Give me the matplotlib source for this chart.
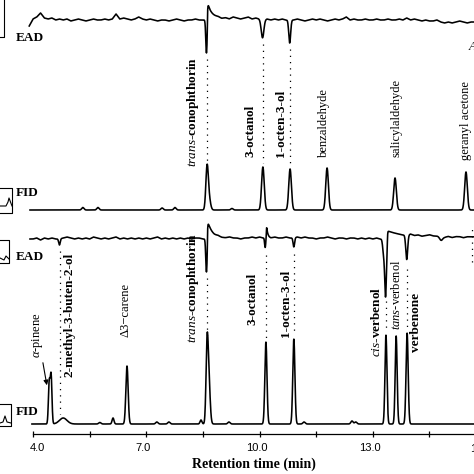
import numpy as np
import matplotlib
matplotlib.use('Agg')
import matplotlib.pyplot as plt
from matplotlib.transforms import ScaledTranslation

plt.rcParams['font.family'] = ['Liberation Serif', 'DejaVu Serif']
plt.rcParams['mathtext.fontset'] = 'custom'
plt.rcParams['mathtext.rm'] = 'Liberation Serif'
plt.rcParams['mathtext.it'] = 'Liberation Serif:italic'
plt.rcParams['mathtext.bf'] = 'Liberation Serif:bold'

# ---- data (retention time in min, response in arbitrary units) ----
# run A, FID peaks
top_fid_t = [5.32, 5.72, 7.42, 7.76, 8.61, 8.66, 9.27, 10.09, 10.81, 11.79, 13.59, 15.47]
top_fid_h = [2.5, 2.5, 2, 2.5, 40, 12, 1.5, 43, 41, 42, 32, 38]
top_fid_w = [0.03, 0.03, 0.03, 0.03, 0.032, 0.04, 0.03, 0.035, 0.035, 0.035, 0.035, 0.035]

# run B, FID peaks
bot_fid_t = [4.43, 4.48, 4.80, 5.77, 6.12, 6.49, 7.28, 7.60, 8.45, 8.61, 8.655, 9.19,
             10.17, 10.91, 11.18, 12.45, 12.55, 13.35, 13.62, 13.91]
bot_fid_h = [41, 48, 6, 1.5, 6, 58, 2, 2, 4, 69, 45, 2, 82, 85, 2, 3, 2, 89, 88, 91]
bot_fid_w = [0.022, 0.022, 0.1, 0.03, 0.025, 0.03, 0.03, 0.03, 0.025, 0.028, 0.035, 0.03,
             0.028, 0.028, 0.03, 0.03, 0.03, 0.026, 0.026, 0.028]

# EAD baselines (sampled every 0.1 min from 3.9 min)
top_ead_noise = [-6, 1, 3, 7, 2, 1, 2, 0, 1, 0, 1, -1, 0, 1, 0, -1, 0, 1, 0, 0,
                 1, 0, 1, 6, 1, 2, 1, 0, 1, 3, 1, 0, 1, 0, -1, 0, 0, -1, 0, 1,
                 0, -1, 0, 0, 1, 0, 0, 0, 0, 1, 2, 1, 2, 1, 3, 2, 1, 2, 3, 1,
                 2, 1, 0, 1, 0, 1, 0, 1, 0, 0, 0, 1, 0, -1, 0, 1, 0, 1, 0, -1,
                 0, 1, 0, 1, 3, 0, 1, 0, 0, 1, 0, 0, 1, 0, 0, 1, 0, 0, 1, 0,
                 2, 0, 1, 0, -1, 0, -1, -1, 0, -2, -3, -2, -3, -2, -1, -2, -3, -2, -2]
bot_ead_noise = [0, 0, 1, -1, 1, 0, 1, 0, 0, 1, 2, 1, 0, 1, 0, 1, 0, 2, 1, 0,
                 1, 0, 1, 2, 0, 1, 0, 1, 0, 1, 0, 1, 0, 1, 2, 0, 1, 0, 1, 0,
                 1, 0, 1, 0, 1, 1, 0, 0, 1, 1, 2, 1, 1, 2, 1, 1, 0, 1, 1, 2,
                 1, 2, 1, 2, 1, 2, 1, 1, 2, 1, 1, 2, 1, 2, 1, 1, 0, 1, 1, 2,
                 1, 0, 1, 1, 0, 1, 1, 0, 1, 0, 1, 0, 1, 0, 0, 0, 0, 0, 0, 0,
                 0, 2, 1, 2, 1, 2, 3, 2, 2, 2, 1, 2, 1, 2, 2, 1, 2, 2, 2]

# EAD responses
top_ead_t = [8.595, 10.08, 10.80]
top_ead_a = [-33, -18, -23]
top_ead_w = [0.018, 0.035, 0.025]
top_reb_t = [8.63]
top_reb_a = [17]
top_reb_tau = [0.12]

bot_ead_t = [4.70, 8.595, 10.15, 10.91, 13.29, 13.34, 13.90, 14.81]
bot_ead_a = [-6, -33, -10, -9, -15, -56, -24, -4]
bot_ead_w = [0.02, 0.018, 0.015, 0.02, 0.025, 0.022, 0.025, 0.04]
bot_reb_t = [8.63, 10.19, 13.40]
bot_reb_a = [17, 10, 8]
bot_reb_tau = [0.12, 0.03, 0.6]

# compounds
top_names = [r'$\mathit{trans}$-conophthorin', '3-octanol', '1-octen-3-ol',
             'benzaldehyde', 'salicylaldehyde', 'geranyl acetone']
top_bold = [True, True, True, False, False, False]
top_active_t = [8.61, 10.09, 10.81]
top_active_ead = [-33, -18, -23]
top_active_fid = [40, 43, 41]

bot_names = [r'$\alpha$-pinene', '2-methyl-3-buten-2-ol', '\u03943\u2212carene',
             r'$\mathit{trans}$-conophthorin', '3-octanol', '1-octen-3-ol',
             r'$\mathit{cis}$-verbenol', r'$\mathit{tans}$-verbenol', 'verbenone']
bot_bold = [False, True, False, True, True, True, True, False, True]
bot_active_t = [4.72, 8.61, 10.17, 10.91, 13.35, 13.91]
bot_active_ead = [-6, -33, -10, -9, -56, -24]
bot_active_fid = [6, 69, 82, 85, 89, 91]

tick_vals = [4, 5.5, 7, 8.5, 10, 11.5, 13, 14.5]
tick_text = ['4.0', '', '7.0', '', '10.0', '', '13.0', '']

# ---- layout ----
TOP_EAD, TOP_FID, BOT_EAD, BOT_FID, AXIS_Y = 454, 264, 235, 50, 40
top_lab_x = [8.24, 9.77, 10.57, 11.71, 13.62, 15.47]
top_lab_y = [307, 317, 317, 317, 317, 314]
bot_lab_x = [4.13, 4.98, 6.44, 8.24, 9.80, 10.70, 13.09, 13.62, 14.15]
bot_lab_y = [116, 97, 137, 131, 149, 137, 117, 144, 122]


def px_t(px):
    return 4 + (px - 33) / 37.75


def fid(t, cs, hs, ws):
    y = np.zeros_like(t)
    for c, h, w in zip(cs, hs, ws):
        y += h * np.exp(-0.5 * ((t - c) / w) ** 2)
    return y


def ead(t, noise, cs, amps, ws, rc, ra, rtau):
    nt = 3.9 + 0.1 * np.arange(len(noise))
    y = np.interp(t, nt, noise)
    for c, a, w in zip(cs, amps, ws):
        y += a * np.exp(-0.5 * ((t - c) / w) ** 2)
    for c, a, tau in zip(rc, ra, rtau):
        y += np.where(t < c, a * np.exp(-((t - c) / 0.012) ** 2), a * np.exp(-(t - c) / tau))
    return y


fig = plt.figure(figsize=(4.74, 4.74), dpi=100)
ax = fig.add_axes([0, 0, 1, 1])
ax.set_xlim(px_t(0), px_t(474))
ax.set_ylim(0, 474)

LW = 1.15
t = np.arange(3.9, 15.75, 0.004)
ax.plot(t, TOP_EAD + ead(t, top_ead_noise, top_ead_t, top_ead_a, top_ead_w,
                         top_reb_t, top_reb_a, top_reb_tau), color='k', lw=LW)
tf = t[t >= 3.92]
ax.plot(tf, TOP_FID + fid(tf, top_fid_t, top_fid_h, top_fid_w), color='k', lw=LW)
ax.plot(tf, BOT_EAD + ead(tf, bot_ead_noise, bot_ead_t, bot_ead_a, bot_ead_w,
                          bot_reb_t, bot_reb_a, bot_reb_tau), color='k', lw=LW)
tb2 = t[t >= 3.97]
ax.plot(tb2, BOT_FID + fid(tb2, bot_fid_t, bot_fid_h, bot_fid_w), color='k', lw=LW)

# dotted links EAD -> FID
dot = dict(color='k', lw=0.9, ls=(0, (1, 4)))
for c, e, f in zip(top_active_t, top_active_ead, top_active_fid):
    ax.plot([c, c], [TOP_EAD + e - 6, TOP_FID + f + 4], **dot)
for c, e, f in zip(bot_active_t, bot_active_ead, bot_active_fid):
    ax.plot([c, c], [BOT_EAD + e - 6, BOT_FID + f + 4], **dot)
ax.plot([px_t(472), px_t(472)], [212, 246], **dot)

# compound labels
for name, b, x, y in zip(top_names, top_bold, top_lab_x, top_lab_y):
    ax.text(x, y, name, rotation=90, ha='center', va='bottom',
            fontsize=9.5 if b else 9, fontweight='bold' if b else 'normal')
for name, b, x, y in zip(bot_names, bot_bold, bot_lab_x, bot_lab_y):
    ax.text(x, y, name, rotation=90, ha='center', va='bottom',
            fontsize=9.5 if b else 9, fontweight='bold' if b else 'normal')
ax.annotate('', xy=(bot_fid_t[0] - 0.05, BOT_FID + 36), xytext=(bot_fid_t[0] - 0.18, 114),
            arrowprops=dict(arrowstyle='-|>', color='k', lw=0.8, mutation_scale=7))
ax.text(px_t(469), 427, 'A', fontsize=9, style='italic', ha='left', va='center')

# trace names
for y, s in [(436, 'EAD'), (281, 'FID'), (217, 'EAD'), (62, 'FID')]:
    ax.text(px_t(16), y, s, fontsize=9.5, fontweight='bold', ha='left', va='center')

# cropped scale insets on the left
for x0, x1, y0, y1 in [(-5, 4, 437, 480), (-5, 12, 261, 286), (-5, 9, 211, 234), (-5, 11, 48, 70)]:
    ax.plot([px_t(x0), px_t(x1), px_t(x1), px_t(x0)], [y1, y1, y0, y0], color='k', lw=0.8)
ax.plot([px_t(0), px_t(6), px_t(8), px_t(9), px_t(12)], [268, 268, 272, 276, 268], color='k', lw=0.8)
ax.plot([px_t(0), px_t(4), px_t(6), px_t(9)], [216, 214, 218, 215], color='k', lw=0.8)
ax.plot([px_t(0), px_t(3), px_t(5), px_t(7), px_t(11)], [51, 52, 58, 52, 51], color='k', lw=0.8)

# x axis
for s in ['top', 'left', 'right']:
    ax.spines[s].set_visible(False)
ax.spines['bottom'].set_position(('data', AXIS_Y))
ax.spines['bottom'].set_bounds(4.0, px_t(474))
ax.spines['bottom'].set_linewidth(0.9)
ax.yaxis.set_visible(False)
ax.set_xticks(tick_vals)
ax.set_xticklabels(tick_text)
ax.tick_params(axis='x', direction='inout', length=5, width=0.9, pad=4, labelsize=8)
shift = ScaledTranslation(-0.03, 0, fig.dpi_scale_trans)
for lbl in ax.get_xticklabels():
    lbl.set_fontfamily('Liberation Sans')
    lbl.set_transform(lbl.get_transform() + shift)
ax.get_xticklabels()[0].set_ha('left')
ax.text(15.95, AXIS_Y - 15, '16.0', fontsize=8, family='Liberation Sans', ha='center', va='center',
        transform=ax.transData + shift, clip_on=False)
ax.text(9.85, 10, 'Retention time (min)', fontsize=10, fontweight='bold', ha='center', va='center')

fig.savefig('out.png', dpi=100)
